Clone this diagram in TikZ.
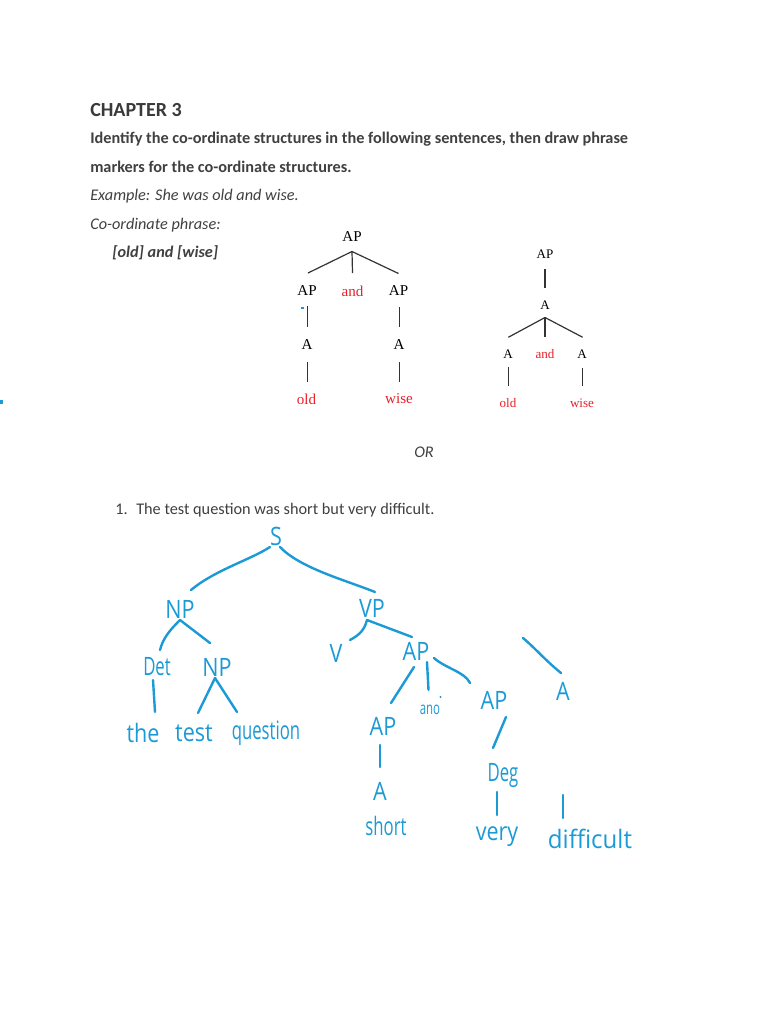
\documentclass[tikz,border=0pt]{standalone}
\usepackage{fontspec}
\setmainfont{Carlito}
\newfontfamily\treefont{Liberation Serif}
\newfontfamily\handfont[FakeStretch=0.85]{Open Sans}
\newfontfamily\handlow[FakeStretch=0.66]{Open Sans}
\newfontfamily\handwide[FakeStretch=0.95]{Open Sans}
\definecolor{txt}{HTML}{404040}
\definecolor{tred}{HTML}{E8202A}
\definecolor{hand}{HTML}{1B9AD6}
\definecolor{tline}{HTML}{333333}
\tikzset{
  body/.style={anchor=base west, inner sep=0pt, text=txt, font=\fontsize{12.2}{14}\selectfont},
  tnode/.style={inner sep=0pt, text=black, font=\treefont\fontsize{11.3}{12}\selectfont},
  tnodered/.style={tnode, text=tred},
  snode/.style={inner sep=0pt, text=black, font=\treefont\fontsize{9.8}{11}\selectfont},
  snodered/.style={snode, text=tred},
  tedge/.style={draw=tline, line width=0.9pt},
  hnode/.style={inner sep=0pt, text=hand, font=\handfont\fontsize{19}{20}\selectfont},
  hword/.style={inner sep=0pt, text=hand, font=\handlow\fontsize{19}{20}\selectfont},
  hwide/.style={inner sep=0pt, text=hand, font=\handwide\fontsize{19}{20}\selectfont},
  hedge/.style={draw=hand, line width=1.8pt, line cap=round, line join=round},
}
\begin{document}
\begin{tikzpicture}[x=0.75pt,y=-0.75pt]
\useasboundingbox (0,0) rectangle (768,1024);
\fill[white] (0,0) rectangle (768,1024);

% ---- header text ----
\node[body, font=\bfseries\fontsize{15}{17}\selectfont, text=txt!90!black] (chap) at (90,116) {CHAPTER 3};
\node[body, font=\bfseries\fontsize{12.2}{14}\selectfont] (l1) at (90,143) {Identify the co-ordinate structures in the following sentences, then draw phrase};
\node[body, font=\bfseries\fontsize{12.2}{14}\selectfont] (l2) at (90,172) {markers for the co-ordinate structures.};
\node[body, font=\itshape\fontsize{12.2}{14}\selectfont] (l3) at (90,200) {Example: She was old and wise.};
\node[body, font=\itshape\fontsize{12.2}{14}\selectfont] (l4) at (90,229) {Co-ordinate phrase:};
\node[body, font=\bfseries\itshape\fontsize{12.2}{14}\selectfont] (l5) at (112,257) {[old] and [wise]};
\node[body, font=\itshape\fontsize{12.2}{14}\selectfont] (or) at (414,457) {OR};
\node[body] (q1n) at (115,514) {1.};
\node[body] (q1) at (136,514) {The test question was short but very difficult.};

% ---- left printed tree ----
\node[tnode] (ap0) at (352,237) {AP};
\node[tnode] (apL) at (307,291) {AP};
\node[tnodered] (andL) at (352.5,291) {and};
\node[tnode] (apR) at (398.5,291) {AP};
\node[tnode] (aL) at (307,345) {A};
\node[tnode] (aR) at (399,345) {A};
\node[tnodered] (oldL) at (306.5,399) {old};
\node[tnodered] (wiseL) at (399,399) {wise};
\coordinate (ap0b) at (352,251.5);
\draw[tedge] (ap0b) -- (308,273);
\draw[tedge] (ap0b) -- (352.5,273);
\draw[tedge] (ap0b) -- (398.5,273.5);
\draw[tedge] (307.3,306) -- (307.3,327);
\draw[tedge] (399.3,307) -- (399.3,327);
\draw[tedge] (307.3,362) -- (307.3,382);
\draw[tedge] (399.3,362) -- (399.3,382);
\draw[draw=hand, line width=1.6pt] (301,308) -- (303.5,308);

% ---- right printed tree ----
\node[snode] (bp0) at (545,254) {AP};
\node[snode] (bA) at (545,305) {A};
\node[snode] (bAL) at (508,354) {A};
\node[snodered] (bAnd) at (545,354) {and};
\node[snode] (bAR) at (582,354) {A};
\node[snodered] (bold) at (508,403) {old};
\node[snodered] (bwise) at (582,403) {wise};
\draw[tedge] (545,269) -- (545,288);
\coordinate (bAb) at (545,317.5);
\draw[tedge] (bAb) -- (508.3,337.3);
\draw[tedge] (bAb) -- (545,337);
\draw[tedge] (bAb) -- (582.7,337.3);
\draw[tedge] (508.3,367) -- (508.3,386);
\draw[tedge] (582.7,368) -- (582.7,386);

% ---- handwritten tree ----
\node[hnode] (S) at (276,536) {S};
\node[hnode] (NP1) at (180,609) {NP};
\node[hnode] (VP) at (372,608) {VP};
\node[hword] (Det) at (157,667) {Det};
\node[hnode] (NP2) at (217,667) {NP};
\node[hnode] (V) at (336,653) {V};
\node[hnode] (AP1) at (416,651) {AP};
\node[hnode] (Atop) at (563,691) {A};
\node[hnode] (the) at (143,733) {the};
\node[hnode] (test) at (194,733) {test};
\node[hword] (question) at (266,733) {question};
\node[hnode] (AP2) at (383,726) {AP};
\node[hword, font=\handlow\fontsize{13}{14}\selectfont] (ano) at (430,710) {ano};
\node[hnode] (AP3) at (494,700) {AP};
\node[hnode] (A2) at (380,791) {A};
\node[hword] (Deg) at (503,775) {Deg};
\node[hword] (short) at (386,826) {short};
\node[hnode] (very) at (497,837) {very};
\node[hwide] (difficult) at (590,839) {difficult};

\coordinate (s1) at (270,547);
\coordinate (s2) at (191,590);
\coordinate (s3) at (280,547);
\coordinate (s4) at (375,592);
\draw[hedge] (s1) .. controls (250,560) and (215,570) .. (s2);
\draw[hedge] (s3) .. controls (300,568) and (345,580) .. (s4);

\coordinate (n1) at (180,620);
\draw[hedge] (n1) .. controls (170,630) and (163,638) .. (160,650);
\draw[hedge] (n1) -- (210,643);
\draw[hedge] (153,680) -- (155,712);
\coordinate (n2) at (215,678);
\draw[hedge] (n2) -- (198,713);
\draw[hedge] (n2) -- (237,712);

\coordinate (v1) at (367,620);
\draw[hedge] (v1) .. controls (364,632) and (357,636) .. (350,640);
\draw[hedge] (v1) -- (412,637);

\draw[hedge] (414,667) -- (391,703);
\draw[hedge] (427,662) -- (428.5,690);
\draw[hedge] (434,658) .. controls (445,668) and (465,672) .. (470,683);
\draw[hedge] (523,638) .. controls (535,648) and (545,660) .. (561,673);
\fill[hand] (440.5,697) circle (1.2);

\draw[hedge] (380,745) -- (380,767);
\draw[hedge] (506,717) -- (493,748);
\draw[hedge] (497,792) -- (497,815);
\draw[hedge] (563,795) -- (563,818);

% stray mark at left edge
\fill[hand] (0,400) rectangle (3,404);
\end{tikzpicture}
\end{document}
